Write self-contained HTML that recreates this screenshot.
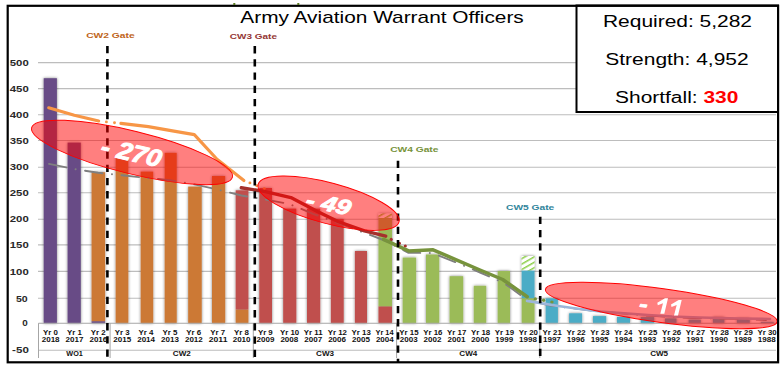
<!DOCTYPE html><html><head><meta charset="utf-8"><style>
html,body{margin:0;padding:0;background:#fff;width:783px;height:367px;overflow:hidden}
svg{display:block}
text{font-family:"Liberation Sans",sans-serif}
</style></head><body>
<svg width="783" height="367" viewBox="0 0 783 367">
<defs>
<pattern id="hatch" patternUnits="userSpaceOnUse" width="4.7" height="4.7" patternTransform="rotate(60)">
<rect width="4.7" height="4.7" fill="#fff"/><rect width="1.5" height="4.7" fill="#8ccf4a"/></pattern>
<filter id="sh" x="-30%" y="-5%" width="160%" height="110%"><feGaussianBlur in="SourceAlpha" stdDeviation="1.4"/><feOffset dx="0" dy="0.3"/><feComponentTransfer><feFuncA type="linear" slope="0.5"/></feComponentTransfer><feMerge><feMergeNode/><feMergeNode in="SourceGraphic"/></feMerge></filter>
</defs>
<rect width="783" height="367" fill="#fff"/>

<line x1="38" x2="776" y1="62.6" y2="62.6" stroke="#bdbdbd" stroke-width="1.1"/>
<line x1="38" x2="776" y1="88.6" y2="88.6" stroke="#bdbdbd" stroke-width="1.1"/>
<line x1="38" x2="776" y1="114.8" y2="114.8" stroke="#bdbdbd" stroke-width="1.1"/>
<line x1="38" x2="776" y1="140.5" y2="140.5" stroke="#bdbdbd" stroke-width="1.1"/>
<line x1="38" x2="776" y1="167.2" y2="167.2" stroke="#bdbdbd" stroke-width="1.1"/>
<line x1="38" x2="776" y1="192.8" y2="192.8" stroke="#bdbdbd" stroke-width="1.1"/>
<line x1="38" x2="776" y1="219.2" y2="219.2" stroke="#bdbdbd" stroke-width="1.1"/>
<line x1="38" x2="776" y1="244.9" y2="244.9" stroke="#bdbdbd" stroke-width="1.1"/>
<line x1="38" x2="776" y1="271.4" y2="271.4" stroke="#bdbdbd" stroke-width="1.1"/>
<line x1="38" x2="776" y1="298.3" y2="298.3" stroke="#bdbdbd" stroke-width="1.1"/>
<line x1="38" x2="776" y1="350.2" y2="350.2" stroke="#bdbdbd" stroke-width="1.1"/>
<g filter="url(#sh)">
<rect x="43.70" y="78.20" width="13.20" height="245.00" fill="#674c86"/>
<rect x="67.60" y="142.60" width="13.20" height="180.60" fill="#674c86"/>
<rect x="91.60" y="321.20" width="13.50" height="2.00" fill="#674c86"/>
<rect x="91.60" y="172.20" width="13.50" height="149.00" fill="#cc7936"/>
<rect x="115.70" y="157.60" width="12.60" height="165.60" fill="#cc7936"/>
<rect x="140.70" y="171.60" width="12.50" height="151.60" fill="#cc7936"/>
<rect x="164.70" y="152.80" width="12.00" height="170.40" fill="#cc7936"/>
<rect x="188.20" y="186.60" width="13.50" height="136.60" fill="#cc7936"/>
<rect x="212.00" y="176.00" width="13.20" height="147.20" fill="#cc7936"/>
<rect x="235.70" y="309.50" width="12.70" height="13.70" fill="#cc7936"/>
<rect x="235.70" y="190.30" width="12.70" height="119.20" fill="#c0504d"/>
<rect x="259.30" y="188.00" width="12.70" height="135.20" fill="#c0504d"/>
<rect x="283.20" y="208.60" width="13.10" height="114.60" fill="#c0504d"/>
<rect x="307.00" y="208.60" width="13.20" height="114.60" fill="#c0504d"/>
<rect x="330.90" y="219.00" width="12.80" height="104.20" fill="#c0504d"/>
<rect x="354.90" y="251.00" width="12.10" height="72.20" fill="#c0504d"/>
<rect x="378.50" y="306.30" width="13.50" height="16.90" fill="#c0504d"/>
<rect x="378.50" y="218.00" width="13.50" height="88.30" fill="#9bbb59"/>
<rect x="378.50" y="213.50" width="13.50" height="4.50" fill="url(#hatch)"/>
<rect x="402.70" y="257.60" width="13.40" height="65.60" fill="#9bbb59"/>
<rect x="426.00" y="254.50" width="13.20" height="68.70" fill="#9bbb59"/>
<rect x="449.60" y="276.20" width="13.60" height="47.00" fill="#9bbb59"/>
<rect x="473.80" y="285.80" width="12.40" height="37.40" fill="#9bbb59"/>
<rect x="497.70" y="271.00" width="12.30" height="52.20" fill="#9bbb59"/>
<rect x="521.70" y="298.20" width="12.80" height="25.00" fill="#9bbb59"/>
<rect x="521.70" y="270.40" width="12.80" height="27.80" fill="#4bacc6"/>
<rect x="521.70" y="256.00" width="12.80" height="14.40" fill="url(#hatch)"/>
<rect x="545.70" y="298.40" width="12.20" height="24.80" fill="#4bacc6"/>
<rect x="569.10" y="313.30" width="13.00" height="9.90" fill="#4bacc6"/>
<rect x="593.00" y="316.10" width="13.20" height="7.10" fill="#4bacc6"/>
<rect x="617.00" y="316.80" width="13.00" height="6.40" fill="#4bacc6"/>
<rect x="640.70" y="317.10" width="13.50" height="6.10" fill="#4bacc6"/>
<rect x="665.00" y="318.40" width="11.50" height="4.80" fill="#4bacc6"/>
<rect x="688.60" y="319.70" width="12.20" height="3.50" fill="#4bacc6"/>
<rect x="712.90" y="317.00" width="11.50" height="6.20" fill="#4bacc6"/>
<rect x="736.80" y="318.30" width="13.00" height="4.90" fill="#4bacc6"/>
<rect x="760.70" y="321.80" width="13.00" height="1.40" fill="#4bacc6"/>
</g>
<line x1="38.5" x2="776" y1="323.2" y2="323.2" stroke="#a6a6a6" stroke-width="1.1"/>
<line x1="38.5" x2="38.5" y1="323.2" y2="358" stroke="#a6a6a6" stroke-width="1"/>
<line x1="110.1" x2="110.1" y1="323.2" y2="358" stroke="#a6a6a6" stroke-width="1"/>
<line x1="253.3" x2="253.3" y1="323.2" y2="358" stroke="#a6a6a6" stroke-width="1"/>
<line x1="396.6" x2="396.6" y1="323.2" y2="358" stroke="#a6a6a6" stroke-width="1"/>
<line x1="539.8" x2="539.8" y1="323.2" y2="358" stroke="#a6a6a6" stroke-width="1"/>
<polyline points="49,163.9 74.3,169.1 98.2,172.8 122,175.3 145.9,177.8 169.8,180.2 193.7,184.3 217.5,189.5 241.4,195.5 265.3,199.5 289.2,204 313,213.8 336.9,222.5 360.8,231.5 384.6,240.5 408.5,252.8 432.4,253 456.3,262.5 480.1,272.5 504,283 527.9,300.5 551.7,305.8 575.6,308.6 599.5,311.5 623.3,313.5 647.2,315.5 671,317 695,318 719,318.5 743,319 766,320" fill="none" stroke="#7f7f7f" stroke-width="1.9" stroke-linecap="round" stroke-linejoin="round" stroke-dasharray="17.6,9.5,0.1,9.5" stroke-linecap="round"/>
<polyline points="48.7,107.8 74.3,115.3 98.7,120.9" fill="none" stroke="#f79646" stroke-width="3.1" stroke-linecap="round" stroke-linejoin="round" />
<circle cx="106.4" cy="121.9" r="1.45" fill="#f79646"/>
<circle cx="114.5" cy="122.8" r="1.45" fill="#f79646"/>
<polyline points="120.9,123.4 148.3,126.6 173.9,131.1 194.3,134.6 217,159.3 243.9,180.5" fill="none" stroke="#f79646" stroke-width="3.1" stroke-linecap="round" stroke-linejoin="round" />
<circle cx="249.9" cy="182.9" r="1.45" fill="#f79646"/>
<circle cx="256.7" cy="185.8" r="1.45" fill="#f79646"/>
<circle cx="264.3" cy="188.6" r="1.45" fill="#f79646"/>
<polyline points="241.3,187.8 265.3,191.6 290.9,197.6 317.4,211.5 338,221.5 364.4,230.8 385.7,236.2" fill="none" stroke="#a5302c" stroke-width="3.4" stroke-linecap="round" stroke-linejoin="round" />
<circle cx="391.2" cy="239.4" r="1.6" fill="#a5302c"/>
<circle cx="399.4" cy="243.3" r="1.6" fill="#a5302c"/>
<circle cx="405.3" cy="246" r="1.6" fill="#a5302c"/>
<polyline points="383.5,239.4 408.6,250.9 433.1,249.8 456.3,259.8 480,270 502.7,279.5 527.2,296.7" fill="none" stroke="#77933c" stroke-width="3.5" stroke-linecap="round" stroke-linejoin="round" />
<circle cx="535.3" cy="298.9" r="1.7" fill="#77933c"/>
<circle cx="543.6" cy="300.2" r="1.7" fill="#77933c"/>
<circle cx="551.9" cy="302.1" r="1.7" fill="#77933c"/>
<polyline points="527,300.9 558.3,306 576.2,308.5 600,311.5 624,313.2 648,315 672,316.5 700,317.5 740,318.5 770,319" fill="none" stroke="#9db6d9" stroke-width="2.6" stroke-linecap="round" stroke-linejoin="round" />
<line x1="107.4" x2="107.4" y1="45.9" y2="362" stroke="#000" stroke-width="2.6" stroke-dasharray="7.3,5.9"/>
<line x1="254.8" x2="254.8" y1="46.1" y2="362" stroke="#000" stroke-width="2.6" stroke-dasharray="7.3,5.9"/>
<line x1="398" x2="398" y1="160.7" y2="362" stroke="#000" stroke-width="2.6" stroke-dasharray="7.3,5.9"/>
<line x1="540.2" x2="540.2" y1="216.8" y2="362" stroke="#000" stroke-width="2.6" stroke-dasharray="7.3,5.9"/>
<ellipse cx="132.03" cy="152.46" rx="103.4" ry="21.3" transform="rotate(13.85 132.03 152.46)" fill="rgba(255,0,0,0.5)" stroke="#ff0000" stroke-width="0.95"/>
<ellipse cx="328.6" cy="203.2" rx="72.9" ry="20.4" transform="rotate(14.9 328.6 203.2)" fill="rgba(255,0,0,0.5)" stroke="#ff0000" stroke-width="0.95"/>
<ellipse cx="661.3" cy="305.5" rx="117.0" ry="16.9" transform="rotate(7.9 661.3 305.5)" fill="rgba(255,0,0,0.5)" stroke="#ff0000" stroke-width="0.95"/>
<text x="0" y="0" font-size="24" font-weight="bold" font-style="italic" fill="#fff" stroke="#fff" stroke-width="0.9" stroke-linejoin="round" transform="translate(99.5,154) scale(1.12,1) rotate(14)" xml:space="preserve">- 270</text>
<text x="0" y="0" font-size="21" font-weight="bold" font-style="italic" fill="#fff" stroke="#fff" stroke-width="0.9" stroke-linejoin="round" transform="translate(304.5,206.5) scale(1.25,1) rotate(14)" xml:space="preserve">- 49</text>
<text x="0" y="0" font-size="20.5" font-weight="bold" font-style="italic" fill="#fff" stroke="#fff" stroke-width="0.9" stroke-linejoin="round" transform="translate(638.5,310.5) scale(1.2,1) rotate(8)" xml:space="preserve">-</text>
<polygon points="660.3,313.7 664.3,313.7 668,298.2 665,298.2 657.3,302.8 657.8,305.3 663,303.3" fill="#fff"/>
<polygon points="674,315.6 678,315.6 681.7,300 678.7,300 671,304.6 671.5,307.1 676.7,305.1" fill="#fff"/>
<rect x="576.5" y="5.5" width="201.5" height="106.5" fill="#fff"/>
<text transform="translate(9.80,65.80) scale(1.293,1)" font-size="8.8" font-weight="bold" fill="#2a2a2a">500</text>
<text transform="translate(9.80,91.80) scale(1.293,1)" font-size="8.8" font-weight="bold" fill="#2a2a2a">450</text>
<text transform="translate(9.80,118.00) scale(1.293,1)" font-size="8.8" font-weight="bold" fill="#2a2a2a">400</text>
<text transform="translate(9.80,143.70) scale(1.293,1)" font-size="8.8" font-weight="bold" fill="#2a2a2a">350</text>
<text transform="translate(9.80,170.40) scale(1.293,1)" font-size="8.8" font-weight="bold" fill="#2a2a2a">300</text>
<text transform="translate(9.80,196.00) scale(1.293,1)" font-size="8.8" font-weight="bold" fill="#2a2a2a">250</text>
<text transform="translate(9.80,222.40) scale(1.293,1)" font-size="8.8" font-weight="bold" fill="#2a2a2a">200</text>
<text transform="translate(9.80,248.10) scale(1.293,1)" font-size="8.8" font-weight="bold" fill="#2a2a2a">150</text>
<text transform="translate(9.80,274.60) scale(1.293,1)" font-size="8.8" font-weight="bold" fill="#2a2a2a">100</text>
<text transform="translate(15.90,301.50) scale(1.200,1)" font-size="8.8" font-weight="bold" fill="#2a2a2a">50</text>
<text transform="translate(12.10,353.40) scale(1.317,1)" font-size="8.8" font-weight="bold" fill="#2a2a2a">-50</text>
<text transform="translate(22.30,326.40) scale(1.120,1)" font-size="8.8" font-weight="bold" fill="#2a2a2a">0</text>
<text transform="translate(43.05,334.70) scale(1.177,1)" font-size="6.7" font-weight="bold" fill="#111">Yr 0</text>
<text transform="translate(41.70,342.30) scale(1.200,1)" font-size="6.7" font-weight="bold" fill="#111">2018</text>
<text transform="translate(66.92,334.70) scale(1.177,1)" font-size="6.7" font-weight="bold" fill="#111">Yr 1</text>
<text transform="translate(65.57,342.30) scale(1.200,1)" font-size="6.7" font-weight="bold" fill="#111">2017</text>
<text transform="translate(90.79,334.70) scale(1.177,1)" font-size="6.7" font-weight="bold" fill="#111">Yr 2</text>
<text transform="translate(89.44,342.30) scale(1.200,1)" font-size="6.7" font-weight="bold" fill="#111">2016</text>
<text transform="translate(114.66,334.70) scale(1.177,1)" font-size="6.7" font-weight="bold" fill="#111">Yr 3</text>
<text transform="translate(113.31,342.30) scale(1.200,1)" font-size="6.7" font-weight="bold" fill="#111">2015</text>
<text transform="translate(138.53,334.70) scale(1.177,1)" font-size="6.7" font-weight="bold" fill="#111">Yr 4</text>
<text transform="translate(137.18,342.30) scale(1.200,1)" font-size="6.7" font-weight="bold" fill="#111">2014</text>
<text transform="translate(162.40,334.70) scale(1.177,1)" font-size="6.7" font-weight="bold" fill="#111">Yr 5</text>
<text transform="translate(161.05,342.30) scale(1.200,1)" font-size="6.7" font-weight="bold" fill="#111">2013</text>
<text transform="translate(186.27,334.70) scale(1.177,1)" font-size="6.7" font-weight="bold" fill="#111">Yr 6</text>
<text transform="translate(184.92,342.30) scale(1.200,1)" font-size="6.7" font-weight="bold" fill="#111">2012</text>
<text transform="translate(210.14,334.70) scale(1.177,1)" font-size="6.7" font-weight="bold" fill="#111">Yr 7</text>
<text transform="translate(208.79,342.30) scale(1.286,1)" font-size="6.7" font-weight="bold" fill="#111">2011</text>
<text transform="translate(234.01,334.70) scale(1.177,1)" font-size="6.7" font-weight="bold" fill="#111">Yr 8</text>
<text transform="translate(232.66,342.30) scale(1.200,1)" font-size="6.7" font-weight="bold" fill="#111">2010</text>
<text transform="translate(257.88,334.70) scale(1.177,1)" font-size="6.7" font-weight="bold" fill="#111">Yr 9</text>
<text transform="translate(256.53,342.30) scale(1.200,1)" font-size="6.7" font-weight="bold" fill="#111">2009</text>
<text transform="translate(280.00,334.70) scale(1.175,1)" font-size="6.7" font-weight="bold" fill="#111">Yr 10</text>
<text transform="translate(280.40,342.30) scale(1.200,1)" font-size="6.7" font-weight="bold" fill="#111">2008</text>
<text transform="translate(303.87,334.70) scale(1.175,1)" font-size="6.7" font-weight="bold" fill="#111">Yr 11</text>
<text transform="translate(304.27,342.30) scale(1.200,1)" font-size="6.7" font-weight="bold" fill="#111">2007</text>
<text transform="translate(327.74,334.70) scale(1.175,1)" font-size="6.7" font-weight="bold" fill="#111">Yr 12</text>
<text transform="translate(328.14,342.30) scale(1.200,1)" font-size="6.7" font-weight="bold" fill="#111">2006</text>
<text transform="translate(351.61,334.70) scale(1.175,1)" font-size="6.7" font-weight="bold" fill="#111">Yr 13</text>
<text transform="translate(352.01,342.30) scale(1.200,1)" font-size="6.7" font-weight="bold" fill="#111">2005</text>
<text transform="translate(375.48,334.70) scale(1.106,1)" font-size="6.7" font-weight="bold" fill="#111">Yr 14</text>
<text transform="translate(375.88,342.30) scale(1.200,1)" font-size="6.7" font-weight="bold" fill="#111">2004</text>
<text transform="translate(399.35,334.70) scale(1.175,1)" font-size="6.7" font-weight="bold" fill="#111">Yr 15</text>
<text transform="translate(399.75,342.30) scale(1.200,1)" font-size="6.7" font-weight="bold" fill="#111">2003</text>
<text transform="translate(423.22,334.70) scale(1.175,1)" font-size="6.7" font-weight="bold" fill="#111">Yr 16</text>
<text transform="translate(423.62,342.30) scale(1.200,1)" font-size="6.7" font-weight="bold" fill="#111">2002</text>
<text transform="translate(447.09,334.70) scale(1.175,1)" font-size="6.7" font-weight="bold" fill="#111">Yr 17</text>
<text transform="translate(447.49,342.30) scale(1.200,1)" font-size="6.7" font-weight="bold" fill="#111">2001</text>
<text transform="translate(470.96,334.70) scale(1.175,1)" font-size="6.7" font-weight="bold" fill="#111">Yr 18</text>
<text transform="translate(471.36,342.30) scale(1.200,1)" font-size="6.7" font-weight="bold" fill="#111">2000</text>
<text transform="translate(494.83,334.70) scale(1.175,1)" font-size="6.7" font-weight="bold" fill="#111">Yr 19</text>
<text transform="translate(495.23,342.30) scale(1.200,1)" font-size="6.7" font-weight="bold" fill="#111">1999</text>
<text transform="translate(518.70,334.70) scale(1.175,1)" font-size="6.7" font-weight="bold" fill="#111">Yr 20</text>
<text transform="translate(519.10,342.30) scale(1.200,1)" font-size="6.7" font-weight="bold" fill="#111">1998</text>
<text transform="translate(542.57,334.70) scale(1.175,1)" font-size="6.7" font-weight="bold" fill="#111">Yr 21</text>
<text transform="translate(542.97,342.30) scale(1.200,1)" font-size="6.7" font-weight="bold" fill="#111">1997</text>
<text transform="translate(566.44,334.70) scale(1.175,1)" font-size="6.7" font-weight="bold" fill="#111">Yr 22</text>
<text transform="translate(566.84,342.30) scale(1.200,1)" font-size="6.7" font-weight="bold" fill="#111">1996</text>
<text transform="translate(590.31,334.70) scale(1.175,1)" font-size="6.7" font-weight="bold" fill="#111">Yr 23</text>
<text transform="translate(590.71,342.30) scale(1.200,1)" font-size="6.7" font-weight="bold" fill="#111">1995</text>
<text transform="translate(614.18,334.70) scale(1.106,1)" font-size="6.7" font-weight="bold" fill="#111">Yr 24</text>
<text transform="translate(614.58,342.30) scale(1.200,1)" font-size="6.7" font-weight="bold" fill="#111">1994</text>
<text transform="translate(638.05,334.70) scale(1.175,1)" font-size="6.7" font-weight="bold" fill="#111">Yr 25</text>
<text transform="translate(638.45,342.30) scale(1.200,1)" font-size="6.7" font-weight="bold" fill="#111">1993</text>
<text transform="translate(661.92,334.70) scale(1.175,1)" font-size="6.7" font-weight="bold" fill="#111">Yr 26</text>
<text transform="translate(662.32,342.30) scale(1.200,1)" font-size="6.7" font-weight="bold" fill="#111">1992</text>
<text transform="translate(685.79,334.70) scale(1.175,1)" font-size="6.7" font-weight="bold" fill="#111">Yr 27</text>
<text transform="translate(686.19,342.30) scale(1.200,1)" font-size="6.7" font-weight="bold" fill="#111">1991</text>
<text transform="translate(709.66,334.70) scale(1.175,1)" font-size="6.7" font-weight="bold" fill="#111">Yr 28</text>
<text transform="translate(710.06,342.30) scale(1.200,1)" font-size="6.7" font-weight="bold" fill="#111">1990</text>
<text transform="translate(733.53,334.70) scale(1.175,1)" font-size="6.7" font-weight="bold" fill="#111">Yr 29</text>
<text transform="translate(733.93,342.30) scale(1.200,1)" font-size="6.7" font-weight="bold" fill="#111">1989</text>
<text transform="translate(757.40,334.70) scale(1.175,1)" font-size="6.7" font-weight="bold" fill="#111">Yr 30</text>
<text transform="translate(757.80,342.30) scale(1.200,1)" font-size="6.7" font-weight="bold" fill="#111">1988</text>
<text transform="translate(66.36,355.70) scale(1.136,1)" font-size="6.4" font-weight="bold" fill="#111">WO1</text>
<text transform="translate(172.87,355.70) scale(1.264,1)" font-size="6.4" font-weight="bold" fill="#111">CW2</text>
<text transform="translate(316.09,355.70) scale(1.264,1)" font-size="6.4" font-weight="bold" fill="#111">CW3</text>
<text transform="translate(459.31,355.70) scale(1.264,1)" font-size="6.4" font-weight="bold" fill="#111">CW4</text>
<text transform="translate(650.15,355.70) scale(1.264,1)" font-size="6.4" font-weight="bold" fill="#111">CW5</text>
<text transform="translate(86.20,38.00) scale(1.284,1)" font-size="8.0" font-weight="bold" fill="#c0651a">CW2 Gate</text>
<text transform="translate(229.80,39.10) scale(1.249,1)" font-size="8.0" font-weight="bold" fill="#953735">CW3 Gate</text>
<text transform="translate(390.20,151.80) scale(1.278,1)" font-size="8.0" font-weight="bold" fill="#77933c">CW4 Gate</text>
<text transform="translate(506.10,209.80) scale(1.278,1)" font-size="8.0" font-weight="bold" fill="#31859c">CW5 Gate</text>
<text transform="translate(240.30,22.70) scale(1.304,1)" font-size="16" font-weight="normal" fill="#000">Army Aviation Warrant Officers</text>
<text transform="translate(602.99,26.50) scale(1.310,1)" font-size="16" font-weight="normal" fill="#000">Required: 5,282</text>
<text transform="translate(605.29,64.50) scale(1.311,1)" font-size="16" font-weight="normal" fill="#000">Strength: 4,952</text>
<text transform="translate(615.09,102.80) scale(1.308,1)" font-size="16" font-weight="normal" fill="#000">Shortfall: <tspan font-weight="bold" fill="#ff0000">330</tspan></text>
<rect x="576.5" y="5.5" width="201.5" height="106.5" fill="none" stroke="#000" stroke-width="2"/>
<rect x="7.7" y="5.8" width="770.4" height="356.5" fill="none" stroke="#000" stroke-width="2.2"/><rect x="233.3" y="3" width="2" height="2" fill="#5a7a20"/><rect x="297.3" y="3" width="2" height="2" fill="#5a7a20"/>
</svg></body></html>
